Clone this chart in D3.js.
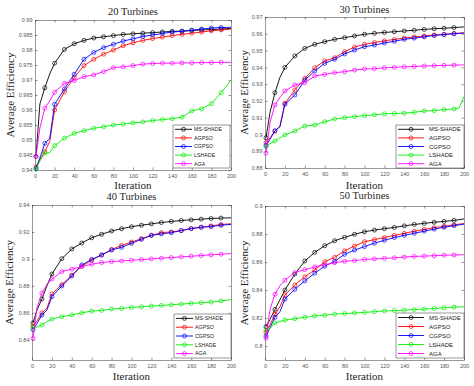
<!DOCTYPE html>
<html>
<head>
<meta charset="utf-8">
<script src="https://cdn.jsdelivr.net/npm/d3@7"></script>
<style>
  body { margin: 0; background: #fff; }
  svg { display: block; }
</style>
</head>
<body>
<svg id="chart" width="474" height="386"></svg>
<script>
// iterations where values were read; markers sit on 1, 10, 20 ... 190
const iters = [1, 5, 10, 15, 20, 30, 40, 50, 60, 70, 80, 90, 100, 110, 120, 130, 140, 150, 160, 170, 180, 190, 195, 200];
const markerIters = [1, 10, 20, 30, 40, 50, 60, 70, 80, 90, 100, 110, 120, 130, 140, 150, 160, 170, 180, 190];

const names = ["MS-SHADE", "AGPSO", "CGPSO", "LSHADE", "AGA"];
const colors = ["#000000", "#ff0000", "#0000ff", "#00ee00", "#ff00ff"];

const xTicks = [0, 20, 40, 60, 80, 100, 120, 140, 160, 180, 200];

// 20 turbines
const ms20  = [0.9445, 0.962, 0.9674, 0.972, 0.9756, 0.9802, 0.9821, 0.9832, 0.984, 0.9844, 0.9848, 0.9852, 0.9854, 0.9856, 0.9858, 0.986, 0.9862, 0.9863, 0.9865, 0.9867, 0.9868, 0.987, 0.9871, 0.9872];
const ag20  = [0.941, 0.9435, 0.9461, 0.9495, 0.960, 0.9661, 0.9708, 0.9748, 0.9769, 0.9786, 0.980, 0.9814, 0.9824, 0.9832, 0.9838, 0.9843, 0.9848, 0.9852, 0.9856, 0.986, 0.9864, 0.9867, 0.9868, 0.987];
const cg20  = [0.9405, 0.944, 0.9489, 0.9505, 0.9619, 0.967, 0.9719, 0.9769, 0.9792, 0.9808, 0.9819, 0.983, 0.9837, 0.9845, 0.985, 0.9855, 0.986, 0.9862, 0.9866, 0.987, 0.9873, 0.9875, 0.9875, 0.9876];
const ls20  = [0.9402, 0.943, 0.9456, 0.9458, 0.9481, 0.9506, 0.9522, 0.9531, 0.9539, 0.9544, 0.955, 0.9553, 0.9557, 0.956, 0.9565, 0.9568, 0.9571, 0.9576, 0.9597, 0.9604, 0.9621, 0.9658, 0.9678, 0.970];
const aga20 = [0.9445, 0.954, 0.9606, 0.963, 0.9659, 0.9689, 0.9698, 0.9711, 0.9717, 0.9728, 0.9741, 0.9744, 0.9748, 0.9753, 0.9755, 0.9756, 0.9756, 0.9757, 0.9757, 0.9758, 0.9758, 0.9759, 0.9759, 0.9759];
const yTicks20 = [0.94, 0.945, 0.95, 0.955, 0.96, 0.965, 0.97, 0.975, 0.98, 0.985, 0.99];

// 30 turbines
const ms30  = [0.898, 0.913, 0.9249, 0.934, 0.94, 0.9468, 0.9513, 0.9537, 0.9553, 0.9567, 0.9577, 0.9587, 0.9597, 0.9603, 0.9608, 0.9612, 0.9617, 0.9621, 0.9626, 0.963, 0.9633, 0.9637, 0.9639, 0.9641];
const ag30  = [0.8951, 0.898, 0.902, 0.905, 0.9186, 0.9265, 0.9334, 0.9398, 0.9438, 0.9457, 0.9493, 0.9521, 0.9537, 0.9548, 0.9558, 0.9566, 0.9575, 0.9581, 0.9587, 0.9593, 0.9597, 0.9602, 0.9604, 0.9606];
const cg30  = [0.8935, 0.897, 0.9022, 0.9045, 0.918, 0.9235, 0.9324, 0.9378, 0.9424, 0.9448, 0.948, 0.9503, 0.9523, 0.9533, 0.9545, 0.9555, 0.9567, 0.9574, 0.9582, 0.959, 0.9595, 0.96, 0.9602, 0.9604];
const ls30  = [0.8927, 0.8945, 0.8961, 0.898, 0.8997, 0.902, 0.905, 0.9056, 0.9076, 0.9092, 0.91, 0.9106, 0.9112, 0.9117, 0.9123, 0.9125, 0.9127, 0.9132, 0.914, 0.9142, 0.9148, 0.9152, 0.9158, 0.9225];
const aga30 = [0.8888, 0.907, 0.9176, 0.922, 0.9259, 0.9295, 0.9308, 0.9348, 0.9358, 0.9368, 0.9374, 0.9384, 0.939, 0.9392, 0.9397, 0.94, 0.9403, 0.9405, 0.9408, 0.941, 0.9412, 0.9413, 0.9414, 0.9414];
const yTicks30 = [0.88, 0.89, 0.9, 0.91, 0.92, 0.93, 0.94, 0.95, 0.96, 0.97];

// 40 turbines
const ms40  = [0.8525, 0.862, 0.8703, 0.88, 0.8888, 0.9002, 0.9074, 0.9118, 0.9157, 0.9183, 0.9207, 0.9224, 0.9239, 0.925, 0.926, 0.927, 0.9278, 0.9285, 0.929, 0.9295, 0.93, 0.9303, 0.9304, 0.9305];
const ag40  = [0.85, 0.854, 0.86, 0.8635, 0.874, 0.881, 0.888, 0.8945, 0.899, 0.903, 0.907, 0.910, 0.9125, 0.915, 0.9175, 0.9195, 0.920, 0.921, 0.9225, 0.9235, 0.9245, 0.9255, 0.9258, 0.926];
const cg40  = [0.8475, 0.852, 0.8584, 0.862, 0.872, 0.8799, 0.8873, 0.8955, 0.8997, 0.9029, 0.9066, 0.9086, 0.9116, 0.9145, 0.9175, 0.9185, 0.9195, 0.921, 0.9225, 0.9235, 0.924, 0.925, 0.9253, 0.9256];
const ls40  = [0.849, 0.8495, 0.851, 0.8535, 0.8554, 0.8571, 0.8584, 0.86, 0.8613, 0.8618, 0.8628, 0.8633, 0.864, 0.8645, 0.865, 0.8655, 0.866, 0.8665, 0.867, 0.8675, 0.868, 0.8688, 0.8693, 0.8698];
const aga40 = [0.841, 0.864, 0.8746, 0.881, 0.8851, 0.8906, 0.8924, 0.8943, 0.8961, 0.8973, 0.898, 0.8985, 0.899, 0.8995, 0.900, 0.9005, 0.901, 0.9015, 0.902, 0.9025, 0.903, 0.9035, 0.9037, 0.904];
const yTicks40 = [0.84, 0.86, 0.88, 0.9, 0.92, 0.94];

// 50 turbines
const ms50  = [0.8138, 0.819, 0.8262, 0.833, 0.84, 0.8514, 0.8607, 0.8669, 0.8716, 0.8752, 0.8776, 0.8798, 0.8816, 0.8828, 0.8838, 0.8847, 0.8858, 0.8868, 0.8876, 0.8884, 0.889, 0.8897, 0.8902, 0.8908];
const ag50  = [0.8098, 0.815, 0.8226, 0.828, 0.8364, 0.8436, 0.8495, 0.8543, 0.8602, 0.8633, 0.868, 0.8714, 0.8745, 0.876, 0.8775, 0.879, 0.8805, 0.882, 0.8832, 0.8845, 0.8855, 0.8865, 0.887, 0.8875];
const cg50  = [0.807, 0.813, 0.8205, 0.8245, 0.8335, 0.8405, 0.8465, 0.852, 0.857, 0.8605, 0.8655, 0.8685, 0.871, 0.8735, 0.8755, 0.8775, 0.879, 0.8805, 0.882, 0.8835, 0.8848, 0.886, 0.8865, 0.887];
const ls50  = [0.8115, 0.8125, 0.8165, 0.8175, 0.8185, 0.8195, 0.8205, 0.8215, 0.822, 0.8228, 0.8232, 0.8236, 0.824, 0.8245, 0.825, 0.8253, 0.8256, 0.826, 0.8264, 0.8268, 0.8273, 0.8278, 0.8279, 0.828];
const aga50 = [0.8055, 0.826, 0.837, 0.843, 0.847, 0.8525, 0.8545, 0.8565, 0.858, 0.8595, 0.8605, 0.861, 0.8618, 0.8622, 0.8626, 0.863, 0.8635, 0.864, 0.8642, 0.8645, 0.8648, 0.865, 0.8651, 0.8652];
const yTicks50 = [0.8, 0.82, 0.84, 0.86, 0.88, 0.9];

const serif = "'Liberation Serif', 'Times New Roman', serif";
const sans = "'Liberation Sans', Arial, sans-serif";

const panels = [
  { title: "20 Turbines", series: [ms20, ag20, cg20, ls20, aga20], yDomain: [0.94, 0.99], yTicks: yTicks20,
    left: 35, right: 231, top: 20, bottom: 170, titleY: 15, xlabY: 189, ylabX: 14,
    legend: { x: 173, y: 125, w: 57, h: 43, l0: 2, l1: 19, tx: 21, fs: 5.3 } },
  { title: "30 Turbines", series: [ms30, ag30, cg30, ls30, aga30], yDomain: [0.88, 0.97], yTicks: yTicks30,
    left: 265, right: 464, top: 17, bottom: 168, titleY: 13, xlabY: 189, ylabX: 248,
    legend: { x: 396, y: 125, w: 68, h: 43, l0: 2, l1: 28, tx: 33, fs: 6 } },
  { title: "40 Turbines", series: [ms40, ag40, cg40, ls40, aga40], yDomain: [0.825, 0.94], yTicks: yTicks40,
    left: 32, right: 231, top: 205, bottom: 360, titleY: 200, xlabY: 380, ylabX: 13,
    legend: { x: 174, y: 314, w: 57, h: 44, l0: 2, l1: 19, tx: 21, fs: 5.3 } },
  { title: "50 Turbines", series: [ms50, ag50, cg50, ls50, aga50], yDomain: [0.79, 0.9], yTicks: yTicks50,
    left: 265, right: 464, top: 206, bottom: 360, titleY: 199, xlabY: 380, ylabX: 248,
    legend: { x: 396, y: 313, w: 68, h: 45, l0: 2, l1: 28, tx: 33, fs: 6 } }
];

const svg = d3.select("#chart");
const fmt = v => String(+v.toFixed(3));

panels.forEach(p => {
  const x = d3.scaleLinear().domain([0, 200]).range([p.left, p.right]);
  const y = d3.scaleLinear().domain(p.yDomain).range([p.bottom, p.top]);
  const g = svg.append("g");

  // axes, ticks pointing inward on all four sides
  const styleAxis = sel => {
    sel.attr("font-size", 5.5).attr("font-family", sans);
    sel.selectAll("text").attr("fill", "#555");
    sel.selectAll("line, path").attr("stroke", "#333").attr("stroke-width", 0.5);
  };
  g.append("g").attr("transform", `translate(0,${p.bottom})`)
    .call(d3.axisBottom(x).tickValues(xTicks).tickSizeInner(-2.5).tickSizeOuter(0).tickPadding(4))
    .call(styleAxis);
  g.append("g").attr("transform", `translate(0,${p.top})`)
    .call(d3.axisTop(x).tickValues(xTicks).tickSizeInner(-2.5).tickSizeOuter(0).tickFormat(""))
    .call(styleAxis);
  g.append("g").attr("transform", `translate(${p.left},0)`)
    .call(d3.axisLeft(y).tickValues(p.yTicks).tickSizeInner(-2.5).tickSizeOuter(0).tickPadding(2.5).tickFormat(fmt))
    .call(styleAxis);
  g.append("g").attr("transform", `translate(${p.right},0)`)
    .call(d3.axisRight(y).tickValues(p.yTicks).tickSizeInner(-2.5).tickSizeOuter(0).tickFormat(""))
    .call(styleAxis);

  // curves
  const line = d3.line().x(d => x(d[0])).y(d => y(d[1]));
  p.series.forEach((vals, i) => {
    const pts = iters.map((t, j) => [t, vals[j]]);
    g.append("path").datum(pts)
      .attr("d", line)
      .attr("fill", "none")
      .attr("stroke", colors[i])
      .attr("stroke-width", 0.9);
    g.selectAll(null)
      .data(pts.filter(d => markerIters.includes(d[0])))
      .enter().append("circle")
      .attr("cx", d => x(d[0]))
      .attr("cy", d => y(d[1]))
      .attr("r", 2)
      .attr("fill", "none")
      .attr("stroke", colors[i])
      .attr("stroke-width", 0.7);
  });

  // titles
  const cx = (p.left + p.right) / 2;
  const label = (sel, size) => sel.attr("text-anchor", "middle").attr("font-family", serif)
    .attr("font-weight", "normal").attr("font-size", size).attr("fill", "#262626");
  g.append("text").attr("x", cx).attr("y", p.titleY).call(label, 10.5).text(p.title);
  g.append("text").attr("x", cx).attr("y", p.xlabY).call(label, 11).text("Iteration");
  g.append("text")
    .attr("transform", `translate(${p.ylabX},${(p.top + p.bottom) / 2}) rotate(-90)`)
    .call(label, 11).text("Average Efficiency");

  // legend
  const L = p.legend;
  const lg = g.append("g").attr("transform", `translate(${L.x},${L.y})`);
  lg.append("rect").attr("width", L.w).attr("height", L.h)
    .attr("fill", "#fff").attr("stroke", "#333").attr("stroke-width", 0.5);
  names.forEach((n, i) => {
    const ry = (i + 0.5) * L.h / 5;
    lg.append("line").attr("x1", L.l0).attr("x2", L.l1).attr("y1", ry).attr("y2", ry)
      .attr("stroke", colors[i]).attr("stroke-width", 0.9);
    lg.append("circle").attr("cx", (L.l0 + L.l1) / 2).attr("cy", ry).attr("r", 2)
      .attr("fill", "none").attr("stroke", colors[i]).attr("stroke-width", 0.7);
    lg.append("text").attr("x", L.tx).attr("y", ry).attr("dy", "0.35em")
      .attr("font-family", sans).attr("font-size", L.fs).attr("fill", "#222")
      .text(n);
  });
});
</script>
</body>
</html>
